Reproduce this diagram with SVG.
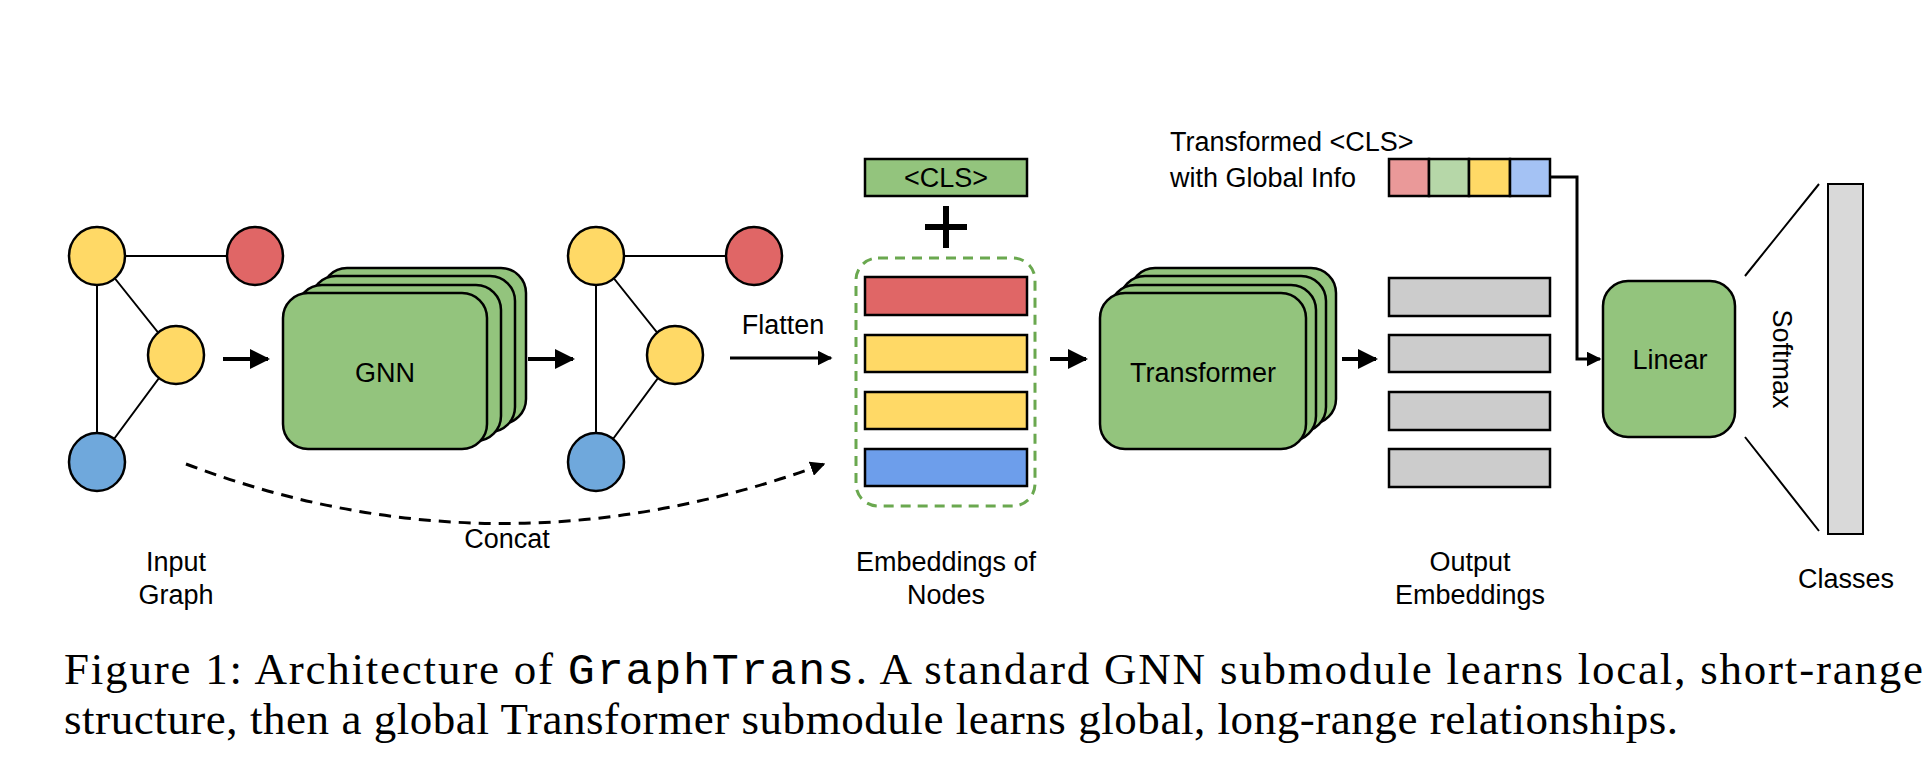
<svg xmlns="http://www.w3.org/2000/svg" width="1927" height="763" viewBox="0 0 1927 763">
<defs>
<style>
.t{font-family:"Liberation Sans",Arial,sans-serif;font-size:27px;fill:#000;text-anchor:middle}
.e{stroke:#000;stroke-width:2;fill:none}
.c{stroke:#000;stroke-width:2.5}
.g{fill:#93c47d;stroke:#000;stroke-width:2.5}
.b{stroke:#000;stroke-width:2.5}
.cap{font-family:"Liberation Serif","Times New Roman",serif;font-size:45px;fill:#000}
</style>
<marker id="ah" viewBox="0 0 10 10" refX="9" refY="5" markerWidth="5" markerHeight="5" orient="auto"><path d="M0,0L10,5L0,10z" fill="#000"/></marker>
</defs>
<rect width="1927" height="763" fill="#fff"/>
<g id="connectors">
<path class="e" d="M97,256H255M97,256V462M97,256L176,355L97,462"/>
<path class="e" d="M596,256H754M596,256V462M596,256L675,355L596,462"/>
<path d="M223,359H268" stroke="#000" stroke-width="4" marker-end="url(#ah)"/>
<path d="M528,359H573" stroke="#000" stroke-width="4" marker-end="url(#ah)"/>
<path d="M730,358H831" stroke="#000" stroke-width="3" marker-end="url(#ah)"/>
<path d="M1050,359H1086" stroke="#000" stroke-width="4" marker-end="url(#ah)"/>
<path d="M1342,359H1376" stroke="#000" stroke-width="4" marker-end="url(#ah)"/>
<path d="M1550,177H1577V359H1600" fill="none" stroke="#000" stroke-width="3" marker-end="url(#ah)"/>
<path d="M186,464Q500,583 824,464" fill="none" stroke="#000" stroke-width="3" stroke-dasharray="12,8" marker-end="url(#ah)"/>
<path class="e" d="M1745,276L1819,184M1745,437L1819,531"/>
<path d="M946,206V248M925,227H967" stroke="#000" stroke-width="6"/>
</g>
<g id="input-graph">
<ellipse class="c" cx="97" cy="256" rx="28" ry="29" fill="#ffd966"/>
<ellipse class="c" cx="255" cy="256" rx="28" ry="29" fill="#e06666"/>
<ellipse class="c" cx="176" cy="355" rx="28" ry="29" fill="#ffd966"/>
<ellipse class="c" cx="97" cy="462" rx="28" ry="29" fill="#6fa8dc"/>
<text class="t" x="176" y="571">Input</text><text class="t" x="176" y="604">Graph</text>
</g>
<g id="gnn">
<rect class="g" x="322" y="268" width="204" height="156" rx="25"/>
<rect class="g" x="311" y="276" width="204" height="156" rx="25"/>
<rect class="g" x="297" y="285" width="204" height="156" rx="25"/>
<rect class="g" x="283" y="293" width="204" height="156" rx="25"/>
<text class="t" x="385" y="382">GNN</text>
</g>
<g id="output-graph">
<ellipse class="c" cx="596" cy="256" rx="28" ry="29" fill="#ffd966"/>
<ellipse class="c" cx="754" cy="256" rx="28" ry="29" fill="#e06666"/>
<ellipse class="c" cx="675" cy="355" rx="28" ry="29" fill="#ffd966"/>
<ellipse class="c" cx="596" cy="462" rx="28" ry="29" fill="#6fa8dc"/>
</g>
<text class="t" x="783" y="334">Flatten</text>
<text class="t" x="507" y="548">Concat</text>
<g id="cls">
<rect class="b" x="865" y="159" width="162" height="37" fill="#93c47d"/>
<text class="t" x="946" y="187">&lt;CLS&gt;</text>
</g>
<g id="node-embeddings">
<rect x="856" y="258" width="179" height="248" rx="22" fill="none" stroke="#6aa84f" stroke-width="3" stroke-dasharray="10,7"/>
<rect class="b" x="865" y="277" width="162" height="38" fill="#e06666"/>
<rect class="b" x="865" y="335" width="162" height="37" fill="#ffd966"/>
<rect class="b" x="865" y="392" width="162" height="37" fill="#ffd966"/>
<rect class="b" x="865" y="449" width="162" height="37" fill="#6d9eeb"/>
<text class="t" x="946" y="571">Embeddings of</text><text class="t" x="946" y="604">Nodes</text>
</g>
<g id="transformer">
<rect class="g" x="1130" y="268" width="206" height="156" rx="25"/>
<rect class="g" x="1120" y="276" width="206" height="156" rx="25"/>
<rect class="g" x="1110" y="285" width="206" height="156" rx="25"/>
<rect class="g" x="1100" y="293" width="206" height="156" rx="25"/>
<text class="t" x="1203" y="382">Transformer</text>
</g>
<g id="output-embeddings">
<rect class="b" x="1389" y="278" width="161" height="38" fill="#cccccc"/>
<rect class="b" x="1389" y="335" width="161" height="37" fill="#cccccc"/>
<rect class="b" x="1389" y="392" width="161" height="38" fill="#cccccc"/>
<rect class="b" x="1389" y="449" width="161" height="38" fill="#cccccc"/>
<text class="t" x="1470" y="571">Output</text><text class="t" x="1470" y="604">Embeddings</text>
</g>
<g id="transformed-cls">
<rect class="b" x="1389" y="159" width="40" height="37" fill="#ea9999"/>
<rect class="b" x="1429" y="159" width="40" height="37" fill="#b6d7a8"/>
<rect class="b" x="1469" y="159" width="41" height="37" fill="#ffd966"/>
<rect class="b" x="1510" y="159" width="40" height="37" fill="#a4c2f4"/>
<text class="t" x="1170" y="151" style="text-anchor:start">Transformed &lt;CLS&gt;</text>
<text class="t" x="1170" y="187" style="text-anchor:start">with Global Info</text>
</g>
<g id="linear">
<rect class="g" x="1603" y="281" width="132" height="156" rx="25"/>
<text class="t" x="1670" y="369">Linear</text>
</g>
<text class="t" transform="translate(1773,359) rotate(90)">Softmax</text>
<g id="classes">
<rect x="1828" y="184" width="35" height="350" fill="#d9d9d9" stroke="#000" stroke-width="2"/>
<text class="t" x="1846" y="588">Classes</text>
</g>
<text class="cap" x="64" y="684" textLength="1859" lengthAdjust="spacing">Figure 1:  Architecture of <tspan font-family="Liberation Mono,monospace">GraphTrans</tspan>.  A standard GNN submodule learns local, short-range</text>
<text class="cap" x="64" y="734" textLength="1614" lengthAdjust="spacing">structure, then a global Transformer submodule learns global, long-range relationships.</text>
</svg>
